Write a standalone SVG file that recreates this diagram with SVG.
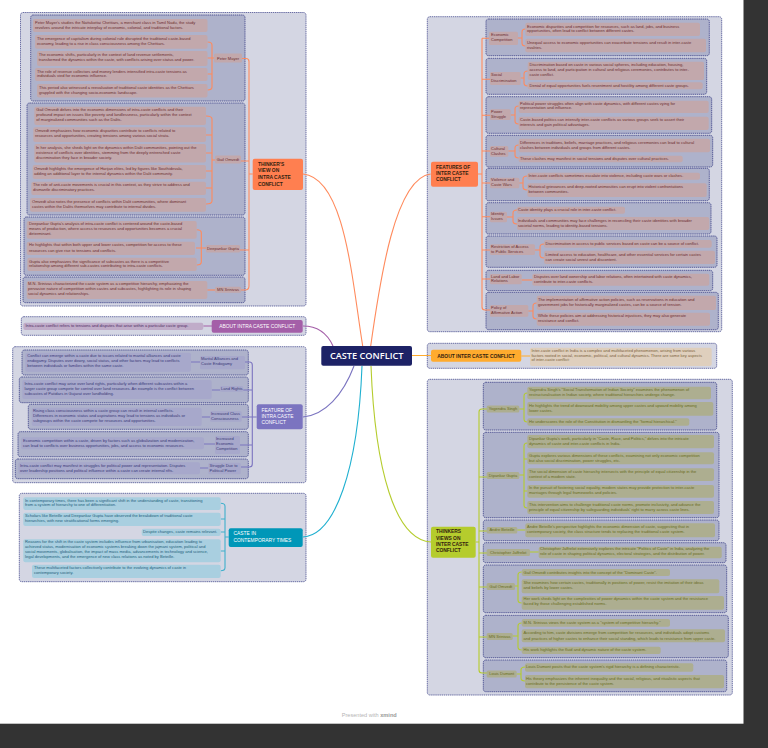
<svg xmlns="http://www.w3.org/2000/svg" width="768" height="748" viewBox="0 0 768 748">
<style>
text{font-family:"Liberation Sans","Open Sans",sans-serif;font-size:4.05px;white-space:pre}
.p{fill:#d4d6e3;stroke:#4a4f90;stroke-width:.8;stroke-dasharray:1.4 .7}
.s{fill:#aeb2cb;stroke:#3c4188;stroke-width:.8;stroke-dasharray:1.4 .7}
.o rect.b{fill:#c2a8ac}.o text{fill:#6d2f30}
.v rect.b{fill:#a7a8cb}.v text{fill:#3a3a78}
.u rect.b{fill:#c0acc9}.u text{fill:#4f2c66}
.c rect.b{fill:#a9cfe0}.c text{fill:#1f5f7c}
.y rect.b{fill:#dfcfbd}.y text{fill:#7c5f3a}
.l rect.b{fill:#adae90}.l text{fill:#696d1e}
.h text{font-size:4.9px}
.w text{fill:#fff}
.k text{fill:#33210f;font-weight:700}
.m{text-anchor:middle}
.cn{fill:none;stroke-width:1.1}
</style>
<rect width="768" height="748" fill="#333"/>
<rect width="743.5" height="723.7" fill="#fff"/>

<g id="panels">
<rect class="p" x="20.5" y="12.5" width="285.5" height="293.5" rx="2.5"/>
<rect class="s" x="30.7" y="15" width="214.3" height="86" rx="2.5"/>
<rect class="s" x="27" y="103" width="218" height="112" rx="2.5"/>
<rect class="s" x="24" y="217" width="221" height="58.3" rx="2.5"/>
<rect class="s" x="23" y="277" width="222" height="25.7" rx="2.5"/>
<rect class="p" x="21.3" y="316.7" width="284.7" height="18.6" rx="2.5"/>
<rect class="p" x="12.7" y="346.7" width="293.3" height="136" rx="2.5"/>
<rect class="s" x="22" y="350" width="226.3" height="25" rx="2.5"/>
<rect class="s" x="19.3" y="377" width="229" height="25.7" rx="2.5"/>
<rect class="s" x="28.3" y="404.3" width="220" height="25" rx="2.5"/>
<rect class="s" x="18" y="431.7" width="230.3" height="25" rx="2.5"/>
<rect class="s" x="15.3" y="459" width="233" height="19.7" rx="2.5"/>
<rect class="p" x="19.3" y="493.3" width="286.7" height="88.4" rx="2.5"/>
<rect class="p" x="427.3" y="16.7" width="294.4" height="315" rx="2.5"/>
<rect class="s" x="486" y="19" width="223.3" height="36.7" rx="2.5"/>
<rect class="s" x="486" y="58.3" width="220.7" height="36" rx="2.5"/>
<rect class="s" x="486" y="96.7" width="225.7" height="36.6" rx="2.5"/>
<rect class="s" x="486" y="135.3" width="226.7" height="31.7" rx="2.5"/>
<rect class="s" x="486" y="168.3" width="223.3" height="32.4" rx="2.5"/>
<rect class="s" x="486" y="202.7" width="225" height="31.3" rx="2.5"/>
<rect class="s" x="486" y="236" width="231" height="31.3" rx="2.5"/>
<rect class="s" x="486" y="270.3" width="226.7" height="20.4" rx="2.5"/>
<rect class="s" x="486" y="292.3" width="232.3" height="37.4" rx="2.5"/>
<rect class="p" x="427.3" y="343.3" width="289.4" height="25" rx="2.5"/>
<rect class="p" x="427.3" y="379.3" width="305" height="315.7" rx="2.5"/>
<rect class="s" x="483.3" y="382.3" width="233.4" height="47.7" rx="2.5"/>
<rect class="s" x="483.3" y="432.3" width="235.7" height="85.4" rx="2.5"/>
<rect class="s" x="483.3" y="520" width="235.7" height="20.7" rx="2.5"/>
<rect class="s" x="483.3" y="542.7" width="242.7" height="20" rx="2.5"/>
<rect class="s" x="483.3" y="565" width="243.4" height="47.7" rx="2.5"/>
<rect class="s" x="483.3" y="615.3" width="245" height="42.4" rx="2.5"/>
<rect class="s" x="483.3" y="660" width="243.4" height="31.7" rx="2.5"/>
</g>

<g id="connectors" class="cn">
<g stroke="#ff8a5c">
<path d="M303,174C345,178 352,280 362.7,346M430.7,174C395,178 380,280 370.7,346"/>
<path d="M241,58.5H246Q249,58.5 249,61.5V286Q249,290 245,290H241M240,161H249M240,250H249M252.7,174H249"/>
<path d="M207.5,42Q212,42 212,45V87Q212,90 207.5,90M207.5,58H215M207.5,74H212"/>
<path d="M206,116Q212,116 212,119V201Q212,204 206,204M206,135H212M206,153H212M206,171H212M206,188H212M212,160H216"/>
<path d="M196.7,229.7Q201.3,229.7 201.3,232.7V262Q201.3,265 196.7,265M196,248H206"/>
<path d="M207.3,290H215"/>
<path d="M482,38.3V307Q482,310 485,310H490M482,38.3H490M482,79.3H490M482,115.3H490M482,151H490M482,183H490M482,216.7H490M482,250H490M482,279H490M478,174H482"/>
<path d="M518,38H522M525.3,29Q522,29 522,32V43Q522,46 525.3,46"/>
<path d="M520.7,78H524M527.7,71Q524,71 524,74V83Q524,86 527.7,86"/>
<path d="M510.7,115H515M518.7,106Q515,106 515,109V121Q515,124 518.7,124"/>
<path d="M508.3,151H515M518.7,145Q515,145 515,148V155Q515,158 518.7,158"/>
<path d="M519.3,183H523M527.3,176Q523,176 523,179V187Q523,190 527.3,190"/>
<path d="M507,217H513M517,210Q513,210 513,213V221Q513,224 517,224"/>
<path d="M535,250H540M544,244Q540,244 540,247V255Q540,258 544,258"/>
<path d="M521.7,280H532.3"/>
<path d="M528.3,311H533M536.7,303Q533,303 533,306V316Q533,319 536.7,319"/>
</g>
<g stroke="#a45fa8"><path d="M303,326C320,326 328,335 333,346M203.3,326H212"/></g>
<g stroke="#ffab2e"><path d="M412,355.5H431M521.3,356H530"/></g>
<g stroke="#7b74c0">
<path d="M303,417C325,415 343,395 354,366"/>
<path d="M245,362H249.5Q252.3,362 252.3,365V464Q252.3,467 249.5,467H241M243,390H252.3M241.7,417H256.7M240,445H252.3"/>
<path d="M191,362H200M211.7,390H220M201.7,417H210M204,444H215M200,468H208.3"/>
</g>
<g stroke="#1fb0d0"><path d="M303,537C335,535 358,470 362,366"/></g>
<g stroke="#3fb0cc"><path d="M220.7,503.3Q225,503.3 225,506.3V567.7Q225,570.7 220.7,570.7M220.7,519H225M220.7,532H225M220.7,551H225M225,537H228.7"/></g>
<g stroke="#b5cc2d">
<path d="M371,366C375,470 395,540 431,542"/>
<path d="M475.7,542H479M479,412V670Q479,673 482,673H487M479,412Q479,409 482,409H487M479,477H487M479,531H487M479,553H487M479,587H487M479,637H487"/>
<path d="M519.3,409H524M527.3,393Q524,393 524,396V419Q524,422 527.3,422"/>
<path d="M519.3,475H524M527.3,443Q524,443 524,446V505Q524,508 527.3,508M527.3,459H524M527.3,491H524"/>
<path d="M517.3,530H525.3M530,552H538.7"/>
<path d="M515,586H518M521.7,572Q518,572 518,575V600Q518,603 521.7,603"/>
<path d="M512.7,636H518M521.7,623Q518,623 518,626V647Q518,650 521.7,650"/>
<path d="M516.7,674H521M525,667Q521,667 521,670V678Q521,681 525,681"/>
</g>
</g>

<g id="center" class="w"><rect x="321.3" y="346" width="90.7" height="19.7" rx="2" fill="#1d2266"/><text x="366.7" y="358.5" class="m" style="font-family:'Open Sans',sans-serif;font-size:9.2px;font-weight:600">CASTE CONFLICT</text></g>

<g id="thinkers-intra" class="h k"><rect x="252.7" y="158.7" width="50.3" height="31.3" rx="2" fill="#ff7f50"/><text x="258" y="165.7">THINKER'S</text><text x="258" y="172">VIEW ON</text><text x="258" y="179">INTRA CASTE</text><text x="258" y="185.5">CONFLICT</text></g>
<g id="features-inter" class="h k"><rect x="431" y="161.7" width="47" height="25" rx="2" fill="#ff7f50"/><text x="436" y="169">FEATURES OF</text><text x="436" y="175">INTER CASTE</text><text x="436" y="181">CONFLICT</text></g>
<g id="about-intra" class="h w"><rect x="211.7" y="320" width="91" height="12.7" rx="2" fill="#a45fa8"/><text x="257.2" y="327.8" class="m">ABOUT INTRA CASTE CONFLICT</text></g>
<g id="about-inter" class="h k"><rect x="431" y="349.7" width="90.3" height="12" rx="2" fill="#ffab2e"/><text x="476" y="357.5" class="m">ABOUT INTER CASTE CONFLICT</text></g>
<g id="feature-intra" class="h w"><rect x="256.7" y="404.3" width="46" height="25" rx="2" fill="#7b74c0"/><text x="261.5" y="411.7">FEATURE OF</text><text x="261.5" y="417.7">INTRA CASTE</text><text x="261.5" y="423.7">CONFLICT</text></g>
<g id="contemporary" class="h w"><rect x="228.7" y="528.3" width="74" height="18.7" rx="2" fill="#0097b8"/><text x="233.5" y="535.3">CASTE IN</text><text x="233.5" y="541.5">CONTEMPORARY TIMES</text></g>
<g id="thinkers-inter" class="h k"><rect x="431" y="526.7" width="44.7" height="31" rx="2" fill="#b5cc2d"/><text x="436" y="533.3">THINKERS</text><text x="436" y="539.5">VIEWS ON</text><text x="436" y="545.8">INTER CASTE</text><text x="436" y="552.2">CONFLICT</text></g>

<g class="o">
<g id="n1"><rect class="b" x="33" y="19" width="174.5" height="13" rx="2"/><text x="35" y="23.7">Peter Mayer's studies the Nattukottai Chettiars, a merchant class in Tamil Nadu, the study</text><text x="35" y="28.7">revolves around the intricate interplay of economic, colonial, and traditional factors.</text></g>
<g id="n2"><rect class="b" x="35" y="35" width="172.5" height="13.7" rx="2"/><text x="37" y="39.7">The emergence of capitalism during colonial rule disrupted the traditional caste-based</text><text x="37" y="44.7">economy, leading to a rise in class consciousness among the Chettiars.</text></g>
<g id="n3"><rect class="b" x="37" y="51" width="170.5" height="15" rx="2"/><text x="38.7" y="55.7">The economic shifts, particularly in the context of land revenue settlements,</text><text x="38.7" y="60.7">transformed the dynamics within the caste, with conflicts arising over status and power.</text></g>
<g id="n4"><rect class="b" x="35" y="68" width="172.5" height="13" rx="2"/><text x="37" y="72.5">The role of revenue collectors and money lenders intensified intra-caste tensions as</text><text x="37" y="77.3">individuals vied for economic influence.</text></g>
<g id="n5"><rect class="b" x="37" y="84" width="170.5" height="13.5" rx="2"/><text x="39" y="88.5">This period also witnessed a reevaluation of traditional caste identities as the Chettiars</text><text x="39" y="94">grappled with the changing socio-economic landscape.</text></g>
<g id="n6"><rect class="b" x="214" y="53.5" width="28" height="9" rx="1.5"/><text x="228" y="59.5" class="m">Peter Mayer</text></g>

<g id="n7"><rect class="b" x="34.3" y="106.7" width="171.7" height="18.3" rx="2"/><text x="36.3" y="110.7">Gail Omvedt delves into the economic dimensions of intra-caste conflicts and their</text><text x="36.3" y="115.7">profound impact on issues like poverty and landlessness, particularly within the context</text><text x="36.3" y="120.7">of marginalized communities such as the Dalits.</text></g>
<g id="n8"><rect class="b" x="33.3" y="127.3" width="172.7" height="14.7" rx="2"/><text x="35" y="131.7">Omvedt emphasizes how economic disparities contribute to conflicts related to</text><text x="35" y="137">resources and opportunities, creating tensions among various social strata.</text></g>
<g id="n9"><rect class="b" x="34.3" y="144" width="171.7" height="18.5" rx="2"/><text x="36" y="149">In her analysis, she sheds light on the dynamics within Dalit communities, pointing out the</text><text x="36" y="154.3">existence of conflicts over identities, stemming from the deeply entrenched caste</text><text x="36" y="159.2">discrimination they face in broader society.</text></g>
<g id="n10"><rect class="b" x="32.7" y="165" width="173.3" height="14" rx="2"/><text x="34" y="170">Omvedt highlights the emergence of Harijan elites, led by figures like Southidevala,</text><text x="34" y="175">adding an additional layer to the internal dynamics within the Dalit community.</text></g>
<g id="n11"><rect class="b" x="31.3" y="181.7" width="174.7" height="13.3" rx="2"/><text x="33" y="186.3">The role of anti-caste movements is crucial in this context, as they strive to address and</text><text x="33" y="191">dismantle discriminatory practices.</text></g>
<g id="n12"><rect class="b" x="30" y="198" width="176" height="13.7" rx="2"/><text x="32" y="203.3">Omvedt also notes the presence of conflicts within Dalit communities, where dominant</text><text x="32" y="207.7">castes within the Dalits themselves may contribute to internal divides.</text></g>
<g id="n13"><rect class="b" x="215" y="155.5" width="26" height="8" rx="1.5"/><text x="228" y="161" class="m">Gail Omvedt</text></g>

<g id="n14"><rect class="b" x="26.7" y="221" width="170" height="17.7" rx="2"/><text x="29" y="225.3">Deepankar Gupta's analysis of intra-caste conflict is centered around the caste-based</text><text x="29" y="230.3">means of production, where access to resources and opportunities becomes a crucial</text><text x="29" y="235.3">determinant.</text></g>
<g id="n15"><rect class="b" x="26.7" y="241.7" width="168.3" height="13.3" rx="2"/><text x="29" y="246">He highlights that within both upper and lower castes, competition for access to these</text><text x="29" y="251.5">resources can give rise to tensions and conflicts.</text></g>
<g id="n16"><rect class="b" x="27.3" y="257.7" width="169.4" height="13.3" rx="2"/><text x="29" y="262.5">Gupta also emphasizes the significance of subcastes as there is a competitive</text><text x="29" y="267">relationship among different sub-castes contributing to intra-caste conflicts.</text></g>
<g id="n17"><rect class="b" x="206" y="245" width="34" height="7.5" rx="1.5"/><text x="223" y="250" class="m">Deepankar Gupta</text></g>

<g id="n18"><rect class="b" x="26.7" y="281" width="180.6" height="18" rx="2"/><text x="28" y="285.3">M.N. Srinivas characterized the caste system as a competitive hierarchy, emphasizing the</text><text x="28" y="290.3">pervasive nature of competition within castes and subcastes, highlighting its role in shaping</text><text x="28" y="295">social dynamics and relationships.</text></g>
<g id="n19"><rect class="b" x="215" y="286.7" width="26" height="6" rx="1.5"/><text x="228" y="291.3" class="m">MN Srinivas</text></g>

<g id="n20"><rect class="b" x="489" y="31.7" width="29" height="13.3" rx="1.5"/><text x="491" y="35.8">Economic</text><text x="491" y="40.6">Competition</text></g>
<g id="n21"><rect class="b" x="525.3" y="22.7" width="174.7" height="13.3" rx="2"/><text x="527" y="27.7">Economic disparities and competition for resources, such as land, jobs, and business</text><text x="527" y="32">opportunities, often lead to conflict between different castes.</text></g>
<g id="n22"><rect class="b" x="525.3" y="38.7" width="180.7" height="13.6" rx="2"/><text x="527" y="43.7">Unequal access to economic opportunities can exacerbate tensions and result in inter-caste</text><text x="527" y="49">rivalries.</text></g>
<g id="n23"><rect class="b" x="490" y="72" width="30.7" height="13" rx="1.5"/><text x="491" y="76.3">Social</text><text x="491" y="81.7">Discrimination</text></g>
<g id="n24"><rect class="b" x="527.7" y="61.7" width="176.3" height="18.3" rx="2"/><text x="529.5" y="65.5">Discrimination based on caste in various social spheres, including education, housing,</text><text x="529.5" y="70.5">access to land, and participation in cultural and religious ceremonies, contributes to inter-</text><text x="529.5" y="75.5">caste conflict.</text></g>
<g id="n25"><rect class="b" x="527.7" y="82.3" width="175" height="7" rx="2"/><text x="529.5" y="86.9">Denial of equal opportunities fuels resentment and hostility among different caste groups.</text></g>
<g id="n26"><rect class="b" x="490" y="109.3" width="20.7" height="10.7" rx="1.5"/><text x="491" y="113">Power</text><text x="491" y="118">Struggle</text></g>
<g id="n27"><rect class="b" x="518.7" y="100.7" width="190" height="12.3" rx="2"/><text x="520" y="105">Political power struggles often align with caste dynamics, with different castes vying for</text><text x="520" y="109.2">representation and influence.</text></g>
<g id="n28"><rect class="b" x="518.7" y="116.7" width="190" height="13.3" rx="2"/><text x="520" y="121">Caste-based politics can intensify inter-caste conflicts as various groups seek to assert their</text><text x="520" y="126">interests and gain political advantages.</text></g>
<g id="n29"><rect class="b" x="490" y="146" width="18.3" height="10.7" rx="1.5"/><text x="491" y="150.3">Cultural</text><text x="491" y="155.3">Clashes</text></g>
<g id="n30"><rect class="b" x="518.7" y="138.7" width="191.3" height="13.6" rx="2"/><text x="520" y="143.5">Differences in traditions, beliefs, marriage practices, and religious ceremonies can lead to cultural</text><text x="520" y="148.5">clashes between individuals and groups from different castes.</text></g>
<g id="n31"><rect class="b" x="518.7" y="155.7" width="164" height="6.6" rx="2"/><text x="520" y="160">These clashes may manifest in social tensions and disputes over cultural practices.</text></g>
<g id="n32"><rect class="b" x="490" y="177.7" width="29.3" height="10.6" rx="1.5"/><text x="491" y="181.3">Violence and</text><text x="491" y="186">Caste Wars</text></g>
<g id="n33"><rect class="b" x="527.3" y="172.7" width="172.7" height="7" rx="2"/><text x="528.5" y="177">Inter-caste conflicts sometimes escalate into violence, including caste wars or clashes.</text></g>
<g id="n34"><rect class="b" x="527.3" y="183.3" width="179.4" height="13.7" rx="2"/><text x="528.5" y="188.3">Historical grievances and deep-rooted animosities can erupt into violent confrontations</text><text x="528.5" y="193.3">between communities.</text></g>
<g id="n35"><rect class="b" x="490" y="211.7" width="17" height="10.6" rx="1.5"/><text x="491" y="215">Identity</text><text x="491" y="219.7">Issues</text></g>
<g id="n36"><rect class="b" x="517" y="206.7" width="108" height="7" rx="2"/><text x="518" y="210.5">Caste identity plays a crucial role in inter-caste conflict.</text></g>
<g id="n37"><rect class="b" x="517" y="217" width="192.3" height="13" rx="2"/><text x="518" y="222">Individuals and communities may face challenges in reconciling their caste identities with broader</text><text x="518" y="226.8">societal norms, leading to identity-based tensions.</text></g>
<g id="n38"><rect class="b" x="490" y="244.3" width="45" height="10.7" rx="1.5"/><text x="491" y="248.3">Restriction of Access</text><text x="491" y="253.3">to Public Services</text></g>
<g id="n39"><rect class="b" x="544" y="240" width="167.7" height="7.7" rx="2"/><text x="545.5" y="244.5">Discrimination in access to public services based on caste can be a source of conflict.</text></g>
<g id="n40"><rect class="b" x="544" y="250.7" width="171" height="13.3" rx="2"/><text x="545.5" y="255.7">Limited access to education, healthcare, and other essential services for certain castes</text><text x="545.5" y="260.5">can create social unrest and discontent.</text></g>
<g id="n41"><rect class="b" x="490" y="274" width="31.7" height="10.3" rx="1.5"/><text x="491" y="277.5">Land and Labor</text><text x="491" y="282.3">Relations</text></g>
<g id="n42"><rect class="b" x="532.3" y="273.7" width="177" height="12" rx="2"/><text x="534" y="277.7">Disputes over land ownership and labor relations, often intertwined with caste dynamics,</text><text x="534" y="282.7">contribute to inter-caste conflicts.</text></g>
<g id="n43"><rect class="b" x="490" y="305" width="38.3" height="11.7" rx="1.5"/><text x="491" y="308.7">Policy of</text><text x="491" y="313.5">Affirmative Action</text></g>
<g id="n44"><rect class="b" x="536.7" y="295.7" width="179.3" height="14.3" rx="2"/><text x="538" y="300.7">The implementation of affirmative action policies, such as reservations in education and</text><text x="538" y="305.7">government jobs for historically marginalized castes, can be a source of tension.</text></g>
<g id="n45"><rect class="b" x="536.7" y="312.7" width="173.3" height="13" rx="2"/><text x="538" y="316.9">While these policies aim at addressing historical injustices, they may also generate</text><text x="538" y="321.7">resistance and conflict.</text></g>
</g>

<g class="u" id="n46"><rect class="b" x="23.3" y="322.7" width="180" height="7.3" rx="2"/><text x="25.5" y="327">Intra-caste conflict refers to tensions and disputes that arise within a particular caste group.</text></g>

<g class="y" id="n47"><rect class="b" x="530" y="347.7" width="181.7" height="18.3" rx="2"/><text x="531.5" y="351.7">Inter-caste conflict in India is a complex and multifaceted phenomenon, arising from various</text><text x="531.5" y="356.5">factors rooted in social, economic, political, and cultural dynamics. There are some key aspects</text><text x="531.5" y="361.2">of inter-caste conflict:</text></g>

<g class="v">
<g id="n48"><rect class="b" x="25.3" y="352.7" width="165.7" height="19" rx="2"/><text x="27.3" y="357.3">Conflict can emerge within a caste due to issues related to marital alliances and caste</text><text x="27.3" y="362.3">endogamy. Disputes over dowry, social status, and other factors may lead to conflicts</text><text x="27.3" y="367.3">between individuals or families within the same caste.</text></g>
<g id="n49"><rect class="b" x="200" y="356" width="45" height="13.3" rx="1.5"/><text x="201" y="360.3">Marital Alliances and</text><text x="201" y="365">Caste Endogamy</text></g>
<g id="n50"><rect class="b" x="22.3" y="380" width="189.4" height="19" rx="2"/><text x="24.5" y="384.5">Intra-caste conflict may arise over land rights, particularly when different subcastes within a</text><text x="24.5" y="389.5">larger caste group compete for control over land resources. An example is the conflict between</text><text x="24.5" y="394.5">subcastes of Patidars in Gujarat over landholding.</text></g>
<g id="n51"><rect class="b" x="220" y="386" width="23.3" height="5.7" rx="1.5"/><text x="221" y="390.2">Land Rights</text></g>
<g id="n52"><rect class="b" x="31.7" y="407.7" width="170" height="18.3" rx="2"/><text x="33" y="412.3">Rising class consciousness within a caste group can result in internal conflicts.</text><text x="33" y="417">Differences in economic status and aspirations may lead to tensions as individuals or</text><text x="33" y="421.7">subgroups within the caste compete for resources and opportunities.</text></g>
<g id="n53"><rect class="b" x="210" y="411" width="31.7" height="10.7" rx="1.5"/><text x="211" y="415">Increased Class</text><text x="211" y="419.7">Consciousness</text></g>
<g id="n54"><rect class="b" x="21" y="437.3" width="183" height="12" rx="2"/><text x="23" y="441.7">Economic competition within a caste, driven by factors such as globalization and modernization,</text><text x="23" y="446.7">can lead to conflicts over business opportunities, jobs, and access to economic resources.</text></g>
<g id="n55"><rect class="b" x="215" y="436" width="25" height="18" rx="1.5"/><text x="216" y="440">Increased</text><text x="216" y="445">Economic</text><text x="216" y="449.8">Competition</text></g>
<g id="n56"><rect class="b" x="18.3" y="462.3" width="181.7" height="12" rx="2"/><text x="20" y="466.7">Intra-caste conflict may manifest in struggles for political power and representation. Disputes</text><text x="20" y="471.7">over leadership positions and political influence within a caste can create internal rifts.</text></g>
<g id="n57"><rect class="b" x="208.3" y="462.7" width="32.4" height="11.6" rx="1.5"/><text x="209.5" y="467">Struggle Due to</text><text x="209.5" y="472">Political Power</text></g>
</g>

<g class="c">
<g id="n58"><rect class="b" x="23.3" y="497.3" width="197.4" height="12.7" rx="2"/><text x="25" y="501.5">In contemporary times, there has been a significant shift in the understanding of caste, transitioning</text><text x="25" y="506.3">from a system of hierarchy to one of differentiation.</text></g>
<g id="n59"><rect class="b" x="23.3" y="512.7" width="197.4" height="13.3" rx="2"/><text x="25" y="516.7">Scholars like Beteille and Deepankar Gupta have observed the breakdown of traditional caste</text><text x="25" y="522">hierarchies, with new stratificational forms emerging.</text></g>
<g id="n60"><rect class="b" x="141.7" y="528.7" width="79" height="7.3" rx="2"/><text x="143" y="533">Despite changes, caste remains relevant.</text></g>
<g id="n61"><rect class="b" x="23.3" y="539.3" width="197.4" height="23" rx="2"/><text x="25" y="543.3">Reasons for the shift in the caste system includes influence from urbanisation, education leading to</text><text x="25" y="548.1">achieved status, modernisation of economic systems breaking down the jajmani system, political and</text><text x="25" y="553">social movements, globalisation, the impact of mass media, advancements in technology and science,</text><text x="25" y="558">legal developments, and the emergence of new class relations as noted by Beteille.</text></g>
<g id="n62"><rect class="b" x="32" y="564.7" width="188.7" height="13.3" rx="2"/><text x="34" y="569.3">These multifaceted factors collectively contribute to the evolving dynamics of caste in</text><text x="34" y="574.3">contemporary society.</text></g>
</g>

<g class="l">
<g id="n63"><rect class="b" x="486.7" y="405.5" width="32.6" height="7" rx="1.5"/><text x="503" y="410" class="m">Yogendra Singh</text></g>
<g id="n64"><rect class="b" x="527.3" y="386.7" width="183.7" height="12.6" rx="2"/><text x="529" y="390.7">Yogendra Singh's "Social Transformation of Indian Society" examines the phenomenon of</text><text x="529" y="395.7">restructuralisation in Indian society, where traditional hierarchies undergo change.</text></g>
<g id="n65"><rect class="b" x="527.3" y="402" width="186" height="13.7" rx="2"/><text x="529" y="406.7">He highlights the trend of downward mobility among upper castes and upward mobility among</text><text x="529" y="411.7">lower castes.</text></g>
<g id="n66"><rect class="b" x="527.3" y="418.3" width="162" height="7.4" rx="2"/><text x="529" y="422.8">He underscores the role of the Constitution in dismantling the "formal hierarchical."</text></g>
<g id="n67"><rect class="b" x="486.7" y="472" width="32.6" height="7" rx="1.5"/><text x="503" y="477" class="m">Dipankar Gupta</text></g>
<g id="n68"><rect class="b" x="527.3" y="435" width="186.7" height="13.3" rx="2"/><text x="529" y="439.7">Dipankar Gupta's work, particularly in "Caste, Race, and Politics," delves into the intricate</text><text x="529" y="445">dynamics of caste and inter-caste conflicts in India.</text></g>
<g id="n69"><rect class="b" x="527.3" y="452.3" width="186.7" height="12" rx="2"/><text x="529" y="456.7">Gupta explores various dimensions of these conflicts, examining not only economic competition</text><text x="529" y="461.7">but also social discrimination, power struggles, etc.</text></g>
<g id="n70"><rect class="b" x="527.3" y="468.3" width="186.7" height="12.7" rx="2"/><text x="529" y="472.7">The social dimension of caste hierarchy intersects with the principle of equal citizenship in the</text><text x="529" y="478">context of a modern state.</text></g>
<g id="n71"><rect class="b" x="527.3" y="485" width="186.7" height="12.7" rx="2"/><text x="529" y="489.3">In the pursuit of fostering social equality, modern states may provide protection to inter-caste</text><text x="529" y="494.3">marriages through legal frameworks and policies.</text></g>
<g id="n72"><rect class="b" x="527.3" y="501" width="186.7" height="13" rx="2"/><text x="529" y="505.7">This intervention aims to challenge traditional caste norms, promote inclusivity, and advance the</text><text x="529" y="510.7">principle of equal citizenship by safeguarding individuals' right to marry across caste lines.</text></g>
<g id="n73"><rect class="b" x="486.7" y="527" width="30.6" height="6.5" rx="1.5"/><text x="502" y="531.3" class="m">Andre Beteille</text></g>
<g id="n74"><rect class="b" x="525.3" y="523.3" width="189.7" height="14" rx="2"/><text x="527" y="527.9">Andre Beteille's perspective highlights the economic dimension of caste, suggesting that in</text><text x="527" y="533">contemporary society, the class structure tends to replacing the traditional caste system.</text></g>
<g id="n75"><rect class="b" x="486.7" y="549" width="43.3" height="7" rx="1.5"/><text x="508.3" y="553.5" class="m">Christopher Jaffrelot</text></g>
<g id="n76"><rect class="b" x="538.7" y="546.7" width="183" height="11.6" rx="2"/><text x="540" y="550.3">Christopher Jaffrelot extensively explores the intricate "Politics of Caste" in India, analyzing the</text><text x="540" y="555.2">role of caste in shaping political dynamics, electoral strategies, and the distribution of power.</text></g>
<g id="n77"><rect class="b" x="486.7" y="583" width="28.3" height="7" rx="1.5"/><text x="500.8" y="587.5" class="m">Gail Omvedt</text></g>
<g id="n78"><rect class="b" x="521.7" y="569" width="148.3" height="7" rx="2"/><text x="523.5" y="573.5">Gail Omvedt contributes insights into the concept of the "Dominant Caste".</text></g>
<g id="n79"><rect class="b" x="521.7" y="579.3" width="197.6" height="14" rx="2"/><text x="523.5" y="584">She examines how certain castes, traditionally in positions of power, resist the imitation of their ideas</text><text x="523.5" y="589">and beliefs by lower castes.</text></g>
<g id="n80"><rect class="b" x="521.7" y="596" width="202.3" height="13.7" rx="2"/><text x="523.5" y="600.3">Her work sheds light on the complexities of power dynamics within the caste system and the resistance</text><text x="523.5" y="605.3">faced by those challenging established norms.</text></g>
<g id="n81"><rect class="b" x="486.7" y="633" width="26" height="7" rx="1.5"/><text x="499.7" y="637.5" class="m">MN Srinivas</text></g>
<g id="n82"><rect class="b" x="521.7" y="619" width="148.3" height="7.7" rx="2"/><text x="523.5" y="624">M.N. Srinivas views the caste system as a "system of competitive hierarchy."</text></g>
<g id="n83"><rect class="b" x="521.7" y="629.3" width="203.3" height="13" rx="2"/><text x="523.5" y="634.3">According to him, caste divisions emerge from competition for resources, and individuals adopt customs</text><text x="523.5" y="639.7">and practices of higher castes to enhance their social standing, which leads to resistance from upper caste.</text></g>
<g id="n84"><rect class="b" x="521.7" y="646.7" width="139" height="7.3" rx="2"/><text x="523.5" y="650.9">His work highlights the fluid and dynamic nature of the caste system.</text></g>
<g id="n85"><rect class="b" x="486.7" y="670.5" width="30" height="7" rx="1.5"/><text x="501.7" y="675" class="m">Louis Dumont</text></g>
<g id="n86"><rect class="b" x="525" y="663.3" width="168.3" height="8.4" rx="2"/><text x="526" y="667.5">Louis Dumont posits that the caste system's rigid hierarchy is a defining characteristic.</text></g>
<g id="n87"><rect class="b" x="525" y="675" width="199" height="13.3" rx="2"/><text x="526" y="679.7">His theory emphasizes the inherent inequality and the social, religious, and ritualistic aspects that</text><text x="526" y="685">contribute to the persistence of the caste system.</text></g>
</g>

<g id="footer"><text x="341.7" y="717" style="font-size:5.6px;fill:#b5b5b5">Presented with <tspan font-weight="700" fill="#999">xmind</tspan></text></g>
</svg>
